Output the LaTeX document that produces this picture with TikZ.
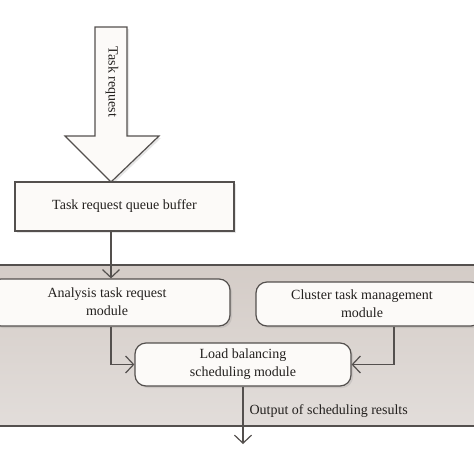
\documentclass[tikz,border=0pt]{standalone}
\usepackage{fontspec}
\setmainfont{Liberation Serif}
\usetikzlibrary{positioning,arrows.meta,shadows}
\definecolor{edgegray}{RGB}{84,80,78}
\definecolor{boxfill}{RGB}{252,250,248}
\definecolor{paneltop}{RGB}{212,204,199}
\definecolor{panelbot}{RGB}{226,221,218}
\definecolor{inkgray}{RGB}{35,32,30}
\newcommand{\boxline}{1.2pt}

\begin{document}
\begin{tikzpicture}[x=1pt,y=-1pt,font=\fontsize{14}{18}\selectfont,text=inkgray]
        %\draw[help lines] (0,0) grid[step=50] (474,474);
        \tikzset{
                modbox/.style = {draw=edgegray, fill=boxfill, line width=\boxline, align=center,
                        drop shadow={opacity=0.2, shadow xshift=2pt, shadow yshift=-2pt}},
                roundbox/.style = {modbox, rounded corners=11pt},
                flow/.style = {draw=edgegray, line width=\boxline, -{Straight Barb[length=8pt,width=17pt]}}
        }
        \useasboundingbox (0,0) rectangle (474,474);
        % module panel
        \fill[top color=paneltop, bottom color=panelbot] (-5,265) rectangle (480,426);
        \draw[edgegray, line width=\boxline] (-5,265) -- (480,265) (-5,426) -- (480,426);
        % input arrow
        \draw[modbox] (95,27) -- (127,27) -- (127,136) -- (159,136) -- (111,182)
                -- (65,136) -- (95,136) -- cycle;
        \node[rotate=-90] (req) at (112,82) {Task request};
        \coordinate (tip) at (111,182);
        \coordinate (cl) at (394,326);
        \coordinate (out) at (243,444);
        % boxes
        \node[modbox, minimum width=219pt, minimum height=49pt] (buf) at (124.5,206.5) {Task request queue buffer};
        \node[roundbox, minimum width=240pt, minimum height=47pt] (ana) at (110,302.5) {};
        \node[align=center] (anat) at (107,302) {Analysis task request\\module};
        \node[roundbox, minimum width=226pt, minimum height=44pt] (clu) at (369,304) {};
        \node[align=center] (clut) at (362,304) {Cluster task management\\module};
        \node[roundbox, minimum width=216pt, minimum height=43pt] (load) at (243,364.5) {Load balancing\\scheduling module};
        % connectors
        \draw[flow] (buf.south -| tip) -- (ana.north -| tip);
        \draw[flow] (ana.south -| tip) |- (load.west);
        \draw[flow] (clu.south -| cl) |- (load.east);
        \draw[flow] (load.south) -- (out);
        \node[anchor=west] (res) at (246,411) {Output of scheduling results};
\end{tikzpicture}
\end{document}
